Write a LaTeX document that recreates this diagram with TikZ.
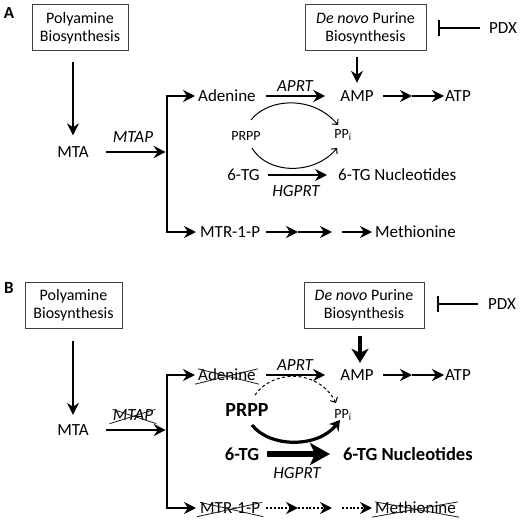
\documentclass[tikz,border=0pt]{standalone}
\usepackage{fontspec}
\setmainfont{Carlito}
\usetikzlibrary{arrows.meta,calc}
\tikzset{
  x=1pt,y=-1pt,
  txt/.style={inner sep=0pt,font=\fontsize{17}{20}\selectfont},
  lbl/.style={inner sep=0pt,font=\fontsize{17}{20}\selectfont\itshape},
  smalltxt/.style={inner sep=0pt,font=\fontsize{14}{16}\selectfont},
  boldtxt/.style={inner sep=0pt,font=\fontsize{18.5}{22}\selectfont\bfseries},
  panel/.style={inner sep=0pt,font=\fontsize{17}{20}\selectfont\bfseries},
  box/.style={draw=black!75,line width=1pt,align=center,inner sep=0pt,font=\fontsize{16}{18}\selectfont},
  arr/.style={line width=2.7pt,-{Stealth[length=12pt,width=12pt,inset=4pt]}},
  dotarr/.style={line width=2.6pt,dash pattern=on 2pt off 1.8pt,-{Stealth[length=12pt,width=12pt,inset=4pt]}},
  plainln/.style={line width=2.7pt,line cap=rect},
  thickarr/.style={line width=4.2pt,-{Stealth[length=14pt,width=17pt,inset=4pt]}},
  hugearr/.style={line width=6.5pt,-{Stealth[length=20pt,width=22pt,inset=5pt]}},
  thinarc/.style={line width=1pt,-{Straight Barb[length=4pt,width=8pt]}},
  dasharc/.style={line width=1pt,dash pattern=on 3pt off 2.5pt,-{Straight Barb[length=4pt,width=8pt]}},
  thickarc/.style={line width=3.2pt,-{Stealth[length=10pt,width=12pt,inset=3pt]}},
  inh/.style={line width=2pt,-{Bar[width=16pt]}},
  strk/.style={line width=0.8pt,black!90},
}
\begin{document}
\begin{tikzpicture}
\useasboundingbox (0,0) rectangle (520,521);

% ================= Panel A =================
\node[panel] (labA) at (9,13) {A};
\node[box,minimum width=96pt,minimum height=46pt] (polyA) at (80,28) {Polyamine\\Biosynthesis};
\node[txt] (mtaA) at (73,152) {MTA};
\coordinate (brAt) at (167,96);
\coordinate (brAm) at (167,152);
\coordinate (brAb) at (167,232);
\node[txt,anchor=west] (adeA) at (198,96) {Adenine};
\node[txt] (ampA) at (357,96) {AMP};
\coordinate (amA) at (412,96);
\node[txt] (atpA) at (458,96) {ATP};
\node[box,minimum width=121pt,minimum height=46pt] (denA) at (365.5,28) {\textit{De novo} Purine\\Biosynthesis};
\node[txt] (pdxA) at (503,28) {PDX};
\node[smalltxt] (prppA) at (246,136) {PRPP};
\node[smalltxt] (ppiA) at (343,135) {PP\textsubscript{i}};
\node[txt] (tgA) at (243.5,175) {6-TG};
\node[txt,anchor=west] (tgnA) at (338,175) {6-TG Nucleotides};
\node[txt,anchor=west] (mtrA) at (200,232) {MTR-1-P};
\coordinate (c1A) at (298,232);
\coordinate (c2A) at (332,232);
\coordinate (c3A) at (342,232);
\node[txt,anchor=west] (metA) at (375,232) {Methionine};
\node[lbl] (mtapA) at (133,137) {MTAP};
\node[lbl] (aprtA) at (295,86) {APRT};
\node[lbl] (hgprtA) at (296,191) {HGPRT};

\draw[arr] ($(mtaA.north |- polyA.south)+(0,11)$) -- ($(mtaA.north)+(0,-11)$);
\draw[arr,shorten <=17pt,shorten >=1.3pt] (mtaA.east) -- (brAm);
\draw[plainln] (brAt) -- (brAb);
\draw[arr,shorten >=3pt] (brAt) -- (adeA.west);
\draw[arr,shorten >=4pt] (brAb) -- (mtrA.west);
\draw[arr,shorten <=10pt,shorten >=15pt] (adeA.east) -- (adeA.east -| ampA.west);
\draw[arr,shorten <=9pt] (ampA.east) -- (amA);
\draw[arr,shorten >=1pt] (amA) -- (atpA.west);
\draw[arr] ($(ampA.north |- denA.south)+(0,6)$) -- ($(ampA.north)+(0,-7.5)$);
\draw[inh,shorten <=8.5pt,shorten >=11pt] (pdxA.west) -- (pdxA.west -| denA.east);
\draw[thinarc] ($(prppA)+(5,-16)$) .. controls ($(prppA)+(22,-38)$) and ($(ppiA)+(-30,-40)$) .. ($(ppiA)+(-5,-10)$);
\draw[thinarc] ($(prppA)+(6,12)$) .. controls ($(prppA)+(22,39)$) and ($(ppiA)+(-28,40)$) .. ($(ppiA)+(-6,13)$);
\draw[arr,shorten <=8pt,shorten >=11pt] (tgA.east) -- (tgA.east -| tgnA.west);
\draw[arr,shorten <=6pt] (mtrA.east) -- (c1A);
\draw[arr] (c1A) -- (c2A);
\draw[arr,shorten >=3pt] (c3A) -- (metA.west);

% ================= Panel B =================
\node[panel] (labB) at (9,288) {B};
\node[box,minimum width=97pt,minimum height=46pt] (polyB) at (73.5,305) {Polyamine\\Biosynthesis};
\node[txt] (mtaB) at (73,430) {MTA};
\coordinate (brBt) at (167,375);
\coordinate (brBm) at (167,430);
\coordinate (brBb) at (167,508);
\node[txt,anchor=west] (adeB) at (198,375) {Adenine};
\node[txt] (ampB) at (357,375) {AMP};
\coordinate (amB) at (412,375);
\node[txt] (atpB) at (458,375) {ATP};
\node[box,minimum width=120pt,minimum height=46pt] (denB) at (364,305) {\textit{De novo} Purine\\Biosynthesis};
\node[txt] (pdxB) at (502,304) {PDX};
\node[boldtxt,font=\fontsize{20}{24}\selectfont\bfseries] (prppB) at (247,410) {PRPP};
\node[smalltxt] (ppiB) at (343,415) {PP\textsubscript{i}};
\node[boldtxt] (tgB) at (242,454) {6-TG};
\node[boldtxt,anchor=west] (tgnB) at (343,454) {6-TG Nucleotides};
\node[txt,anchor=west] (mtrB) at (200,508) {MTR-1-P};
\coordinate (c1B) at (298,508);
\coordinate (c2B) at (332,508);
\coordinate (c3B) at (342,508);
\node[txt,anchor=west] (metB) at (375,508) {Methionine};
\node[lbl] (mtapB) at (133,415) {MTAP};
\node[lbl] (aprtB) at (295,365) {APRT};
\node[lbl] (hgprtB) at (297,473) {HGPRT};

\draw[arr] ($(mtaB.north |- polyB.south)+(0,12)$) -- ($(mtaB.north)+(0,-9.5)$);
\draw[arr,shorten <=17pt,shorten >=1.3pt] (mtaB.east) -- (brBm);
\draw[plainln] (brBt) -- (brBb);
\draw[arr,shorten >=3pt] (brBt) -- (adeB.west);
\draw[arr,shorten >=4pt] (brBb) -- (mtrB.west);
\draw[arr,shorten <=10pt,shorten >=15pt] (adeB.east) -- (adeB.east -| ampB.west);
\draw[arr,shorten <=9pt] (ampB.east) -- (amB);
\draw[arr,shorten >=1pt] (amB) -- (atpB.west);
\draw[thickarr] ($(ampB.north |- denB.south)+(3,7)$) -- ($(ampB.north)+(3,-6.5)$);
\draw[inh,shorten <=10pt,shorten >=12pt] (pdxB.west) -- (pdxB.west -| denB.east);
\draw[dasharc] ($(prppB)+(8,-15)$) .. controls ($(prppB)+(25,-40)$) and ($(ppiB)+(-25,-47)$) .. ($(ppiB)+(-7,-12)$);
\draw[thickarc] ($(prppB)+(5,15)$) .. controls ($(prppB)+(23,38)$) and ($(ppiB)+(-25,33)$) .. ($(ppiB)+(-3,5)$);
\draw[hugearr,shorten <=8pt,shorten >=13pt] (tgB.east) -- (tgB.east -| tgnB.west);
\draw[dotarr,shorten <=6pt] (mtrB.east) -- (c1B);
\draw[dotarr] (c1B) -- (c2B);
\draw[dotarr,shorten >=3pt] (c3B) -- (metB.west);

% strike-throughs
\foreach \n in {mtapB,adeB,mtrB,metB}{
  \draw[strk] ($(\n.south west)+(-3,3)$) -- ($(\n.north east)+(2,0)$);
  \draw[strk] ($(\n.north west)+(0,0)$) -- ($(\n.south east)+(3,3)$);
}
\end{tikzpicture}
\end{document}
